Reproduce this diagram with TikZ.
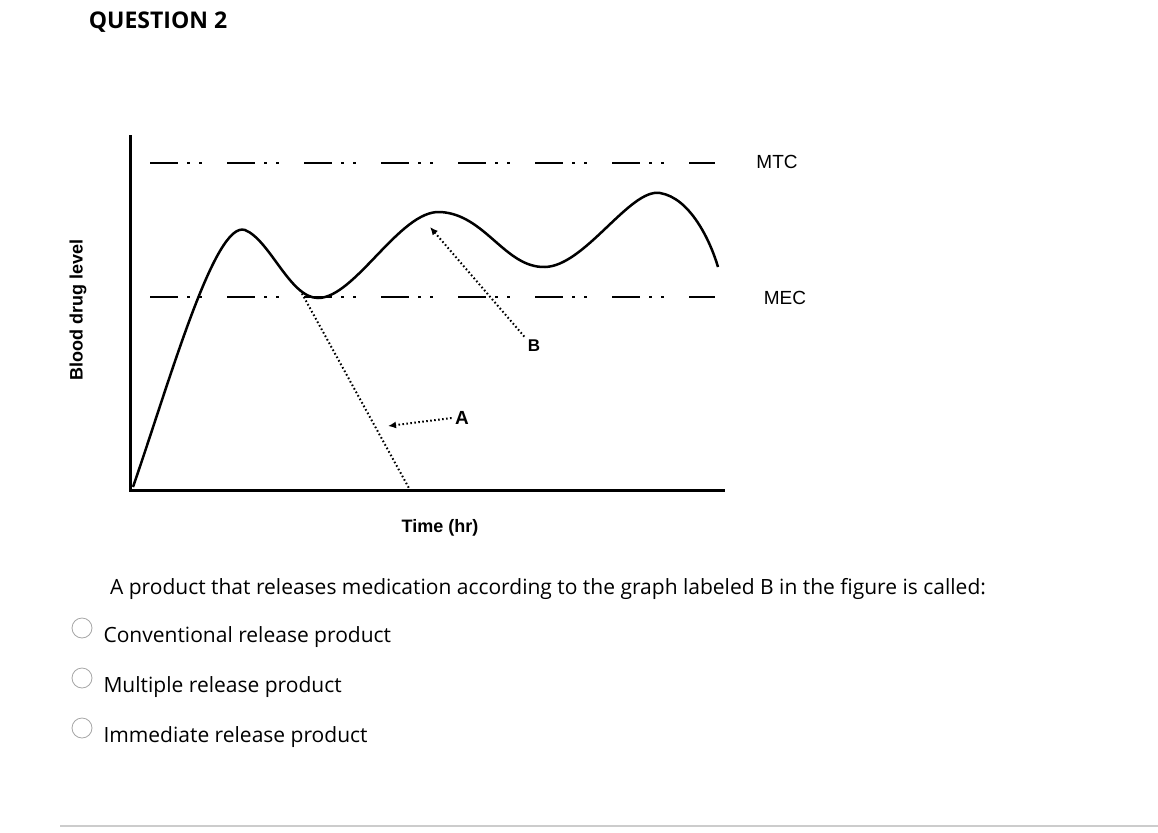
\documentclass[tikz,border=0pt]{standalone}
\usepackage{fontspec}
\usetikzlibrary{arrows.meta}
\setmainfont{Open Sans}
\newfontfamily\arialf{Liberation Sans}
\begin{document}
\begin{tikzpicture}[x=1pt,y=-1pt,
  lvl/.style={line width=2pt,dash pattern=on 28pt off 9pt on 3pt off 9pt on 3pt off 25pt},
  dotl/.style={line width=2pt,dash pattern=on 1.6pt off 2.4pt},
  lab/.style={font=\arialf\fontsize{19}{22}\selectfont},
  blab/.style={font=\arialf\bfseries\fontsize{19}{22}\selectfont},
  opt/.style={font=\fontsize{21}{25}\selectfont,anchor=west},
  radio/.style={circle,draw=gray!70,line width=0.8pt,minimum size=20pt,inner sep=0}]
\useasboundingbox (0,0) rectangle (1158,832);
\node[font=\bfseries\fontsize{23}{27}\selectfont] (title) at (158,22) {QUESTION 2};
% axes
\coordinate (o) at (130,490);
\coordinate (ytop) at (130,135);
\coordinate (xend) at (725,490);
\draw[line width=3pt] (ytop) -- (o) -- (xend);
% levels
\coordinate (mtc0) at (150,163); \coordinate (mtc1) at (715,163);
\coordinate (mec0) at (150,297); \coordinate (mec1) at (715,297);
\draw[lvl] (mtc0) -- (mtc1);
\draw[lvl] (mec0) -- (mec1);
\node[lab] (mtc) at (777,162) {MTC};
\node[lab] (mec) at (785,298) {MEC};
% curve
\draw[line width=2.5pt] (133,487) .. controls (170,380) and (215,220) .. (245,230)
  .. controls (270,240) and (290,298) .. (318,298)
  .. controls (355,298) and (400,210) .. (440,212)
  .. controls (485,214) and (505,268) .. (545,267)
  .. controls (585,266) and (630,188) .. (660,193)
  .. controls (690,198) and (710,240) .. (718,267);
% A
\coordinate (a0) at (300,290); \coordinate (a1) at (410,490);
\draw[dotl] (a0) -- (a1);
\node[blab] (A) at (462,418) {A};
\coordinate (aa) at (388,426);
\draw[dotl,-{Latex[length=8pt,width=7pt]}] (A.west) -- (aa);
% B
\node[blab,font=\arialf\bfseries\fontsize{17}{20}\selectfont] (B) at (534,346) {B};
\coordinate (bb) at (430,227);
\draw[dotl,-{Latex[length=8pt,width=7pt]}] (B.north west) -- (bb);
% axis labels
\node[blab,font=\arialf\bfseries\fontsize{18}{22}\selectfont,rotate=90] (ylab) at (78,310) {Blood drug level};
\node[blab,font=\arialf\bfseries\fontsize{18}{22}\selectfont] (xlab) at (440,528) {Time (hr)};
% question
\node[font=\fontsize{21}{25}\selectfont] (q) at (548,589) {A product that releases medication according to the graph labeled B in the figure is called:};
\node[radio] (r1) at (82,628) {};
\node[radio] (r2) at (82,678) {};
\node[radio] (r3) at (82,728) {};
\node[opt] (o1) at (100,637) {Conventional release product};
\node[opt] (o2) at (100,687) {Multiple release product};
\node[opt] (o3) at (100,737) {Immediate release product};
\coordinate (h0) at (60,826); \coordinate (h1) at (1158,826);
\draw[gray!40,line width=1.5pt] (h0) -- (h1);
\end{tikzpicture}
\end{document}
